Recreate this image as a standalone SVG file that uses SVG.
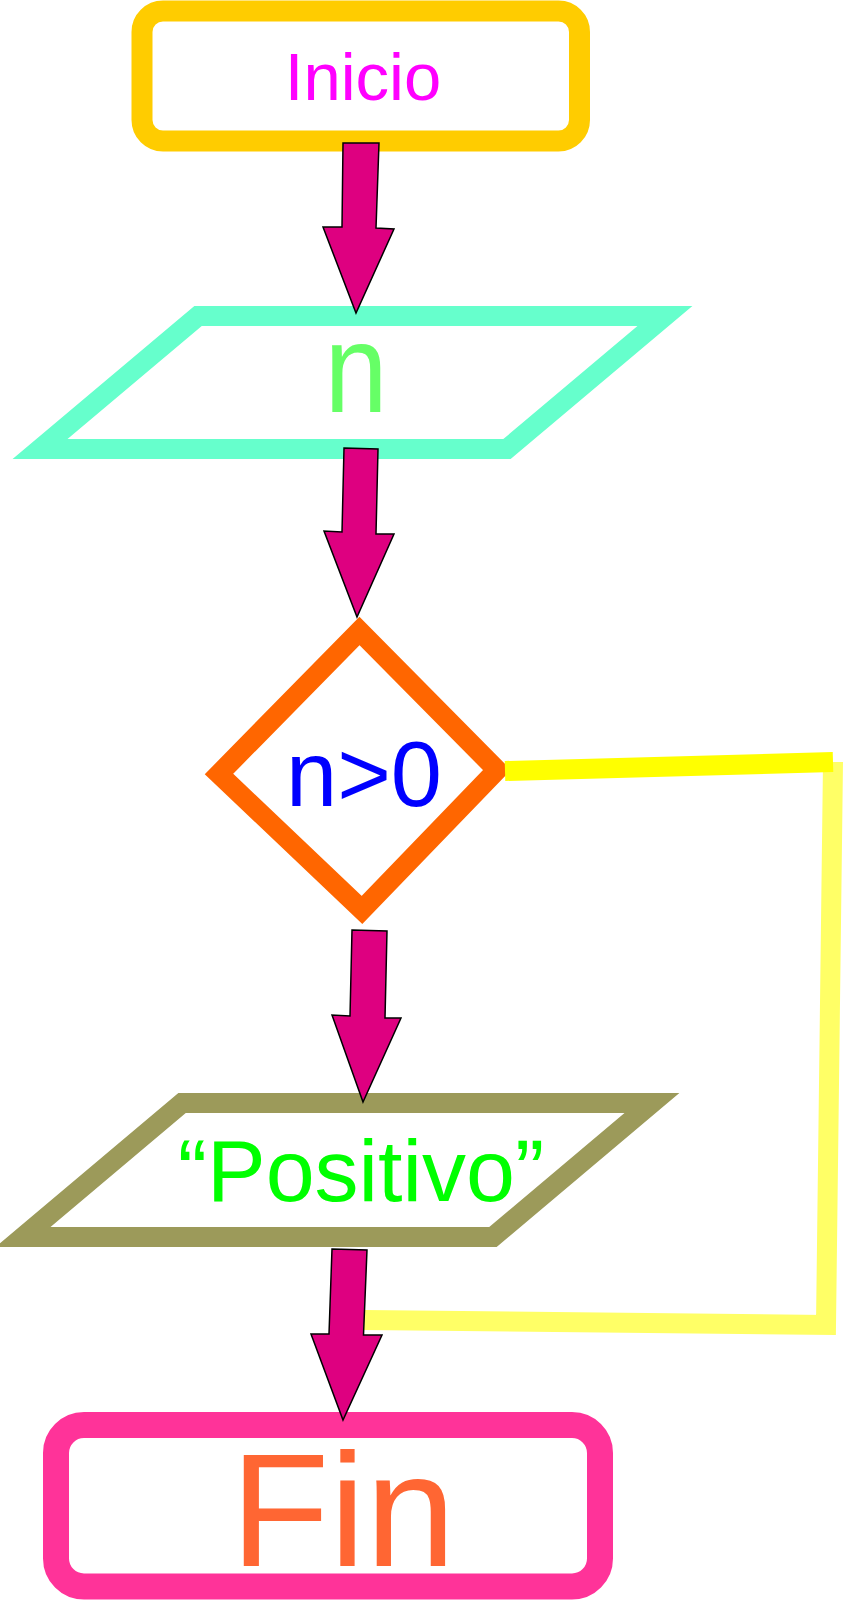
<svg xmlns="http://www.w3.org/2000/svg" width="844" height="1600" viewBox="0 0 844 1600">
<style>
.t{font-family:"Liberation Sans",Arial,sans-serif;text-anchor:middle}
.arr{fill:#DE0080;stroke:#000;stroke-width:1.5;stroke-linejoin:miter}
.sh{fill:#fff;stroke-linejoin:miter}
</style>
<rect width="844" height="1600" fill="#fff"/>
<g id="inicio">
<rect class="sh" x="142" y="11" width="437.5" height="130" rx="21" fill="#fff" stroke="#FFCC00" stroke-width="21"/>
<text class="t" x="363" y="100" font-size="67" fill="#FF00FF">Inicio</text>
</g>
<g id="entrada-n">
<path class="sh" d="M198,316 L665,316 L507,449 L40,449 Z" stroke="#66FFCC" stroke-width="20"/>
<text class="t" transform="translate(356,412) scale(0.9,1)" x="0" y="0" font-size="126" fill="#66FF66">n</text>
</g>
<g id="decision">
<path class="sh" d="M359.5,631 L497,770 L362,910 L219,774 Z" stroke="#FF6600" stroke-width="20"/>
<text class="t" x="364" y="806" font-size="92" fill="#0000FF">n&gt;0</text>
</g>
<g id="salida-positivo">
<path class="sh" d="M182,1103 L652,1103 L493,1237 L23,1237 Z" stroke="#9C9A5A" stroke-width="20"/>
<text class="t" x="361" y="1201" font-size="88" fill="#00FF00">“Positivo”</text>
</g>
<g id="fin">
<rect class="sh" x="56" y="1425" width="544" height="161.5" rx="28" fill="#fff" stroke="#FF3399" stroke-width="26"/>
<text class="t" x="343" y="1566" font-size="162" fill="#FF6633">Fin</text>
</g>
<g id="connectors">
<path d="M364,1320 L826,1325 L833,762" fill="none" stroke="#FFFF66" stroke-width="20" stroke-linejoin="miter"/>
<path d="M505,771 L833,762" fill="none" stroke="#FFFF00" stroke-width="20"/>
<path class="arr" d="M343,143 L379,143 L376,228 L394,229 L356,313 L323,227 L342,227 Z"/>
<path class="arr" d="M344,448 L378,449 L376,534 L394,534 L357,617 L324,531 L342,532 Z"/>
<path class="arr" d="M352,930 L387,931 L385,1018 L401,1018 L363,1102 L332,1015 L350,1016 Z"/>
<path class="arr" d="M332,1249 L367,1250 L363.5,1335 L382,1335 L343,1420 L311,1334 L329,1334 Z"/>
</g>
</svg>
